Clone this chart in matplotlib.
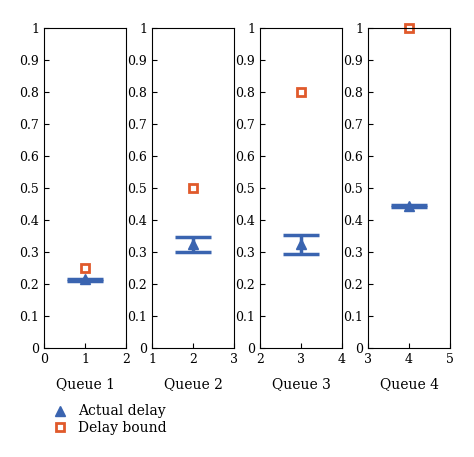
import matplotlib.pyplot as plt
from matplotlib.lines import Line2D

queues = ['Queue 1', 'Queue 2', 'Queue 3', 'Queue 4']
positions = [1, 2, 3, 4]
actual = [0.215, 0.325, 0.325, 0.445]
err_low = [0.210, 0.300, 0.295, 0.441]
err_high = [0.215, 0.346, 0.352, 0.448]
bound = [0.25, 0.50, 0.80, 1.00]

blue = '#3a64b0'
red = '#e05a2b'

plt.rcParams['font.family'] = 'DejaVu Serif'
fig = plt.figure(figsize=(4.74, 4.57), dpi=100)

lefts = [44, 152, 260, 368]
for i, q in enumerate(queues):
    ax = fig.add_axes([lefts[i] / 474, 1 - 348 / 457, 82 / 474, 320 / 457])
    x = positions[i]
    ax.errorbar([x], [actual[i]],
                yerr=[[actual[i] - err_low[i]], [err_high[i] - actual[i]]],
                fmt='^', color=blue, ms=7, elinewidth=2.5, capsize=13, capthick=2.5)
    ax.plot([x], [bound[i]], 's', mfc='white', mec=red, mew=2, ms=6, clip_on=False)
    ax.set_xlim(x - 1, x + 1)
    ax.set_ylim(0, 1)
    ax.set_xticks([x - 1, x, x + 1])
    ax.set_yticks([i / 10 for i in range(11)])
    ax.set_yticklabels(['0'] + ['%.1f' % (i / 10) for i in range(1, 10)] + ['1'])
    ax.tick_params(direction='in', labelsize=9)
    ax.set_xlabel(q, fontsize=10, labelpad=8)

handles = [
    Line2D([], [], marker='^', color=blue, ls='none', ms=7),
    Line2D([], [], marker='s', mfc='white', mec=red, mew=2, ls='none', ms=6),
]
fig.legend(handles, ['Actual delay', 'Delay bound'], loc='upper left',
           bbox_to_anchor=(34 / 474, 1 - 392 / 457), frameon=False,
           fontsize=10, handletextpad=0.3, labelspacing=0.2)

fig.savefig('out.png', dpi=100)
